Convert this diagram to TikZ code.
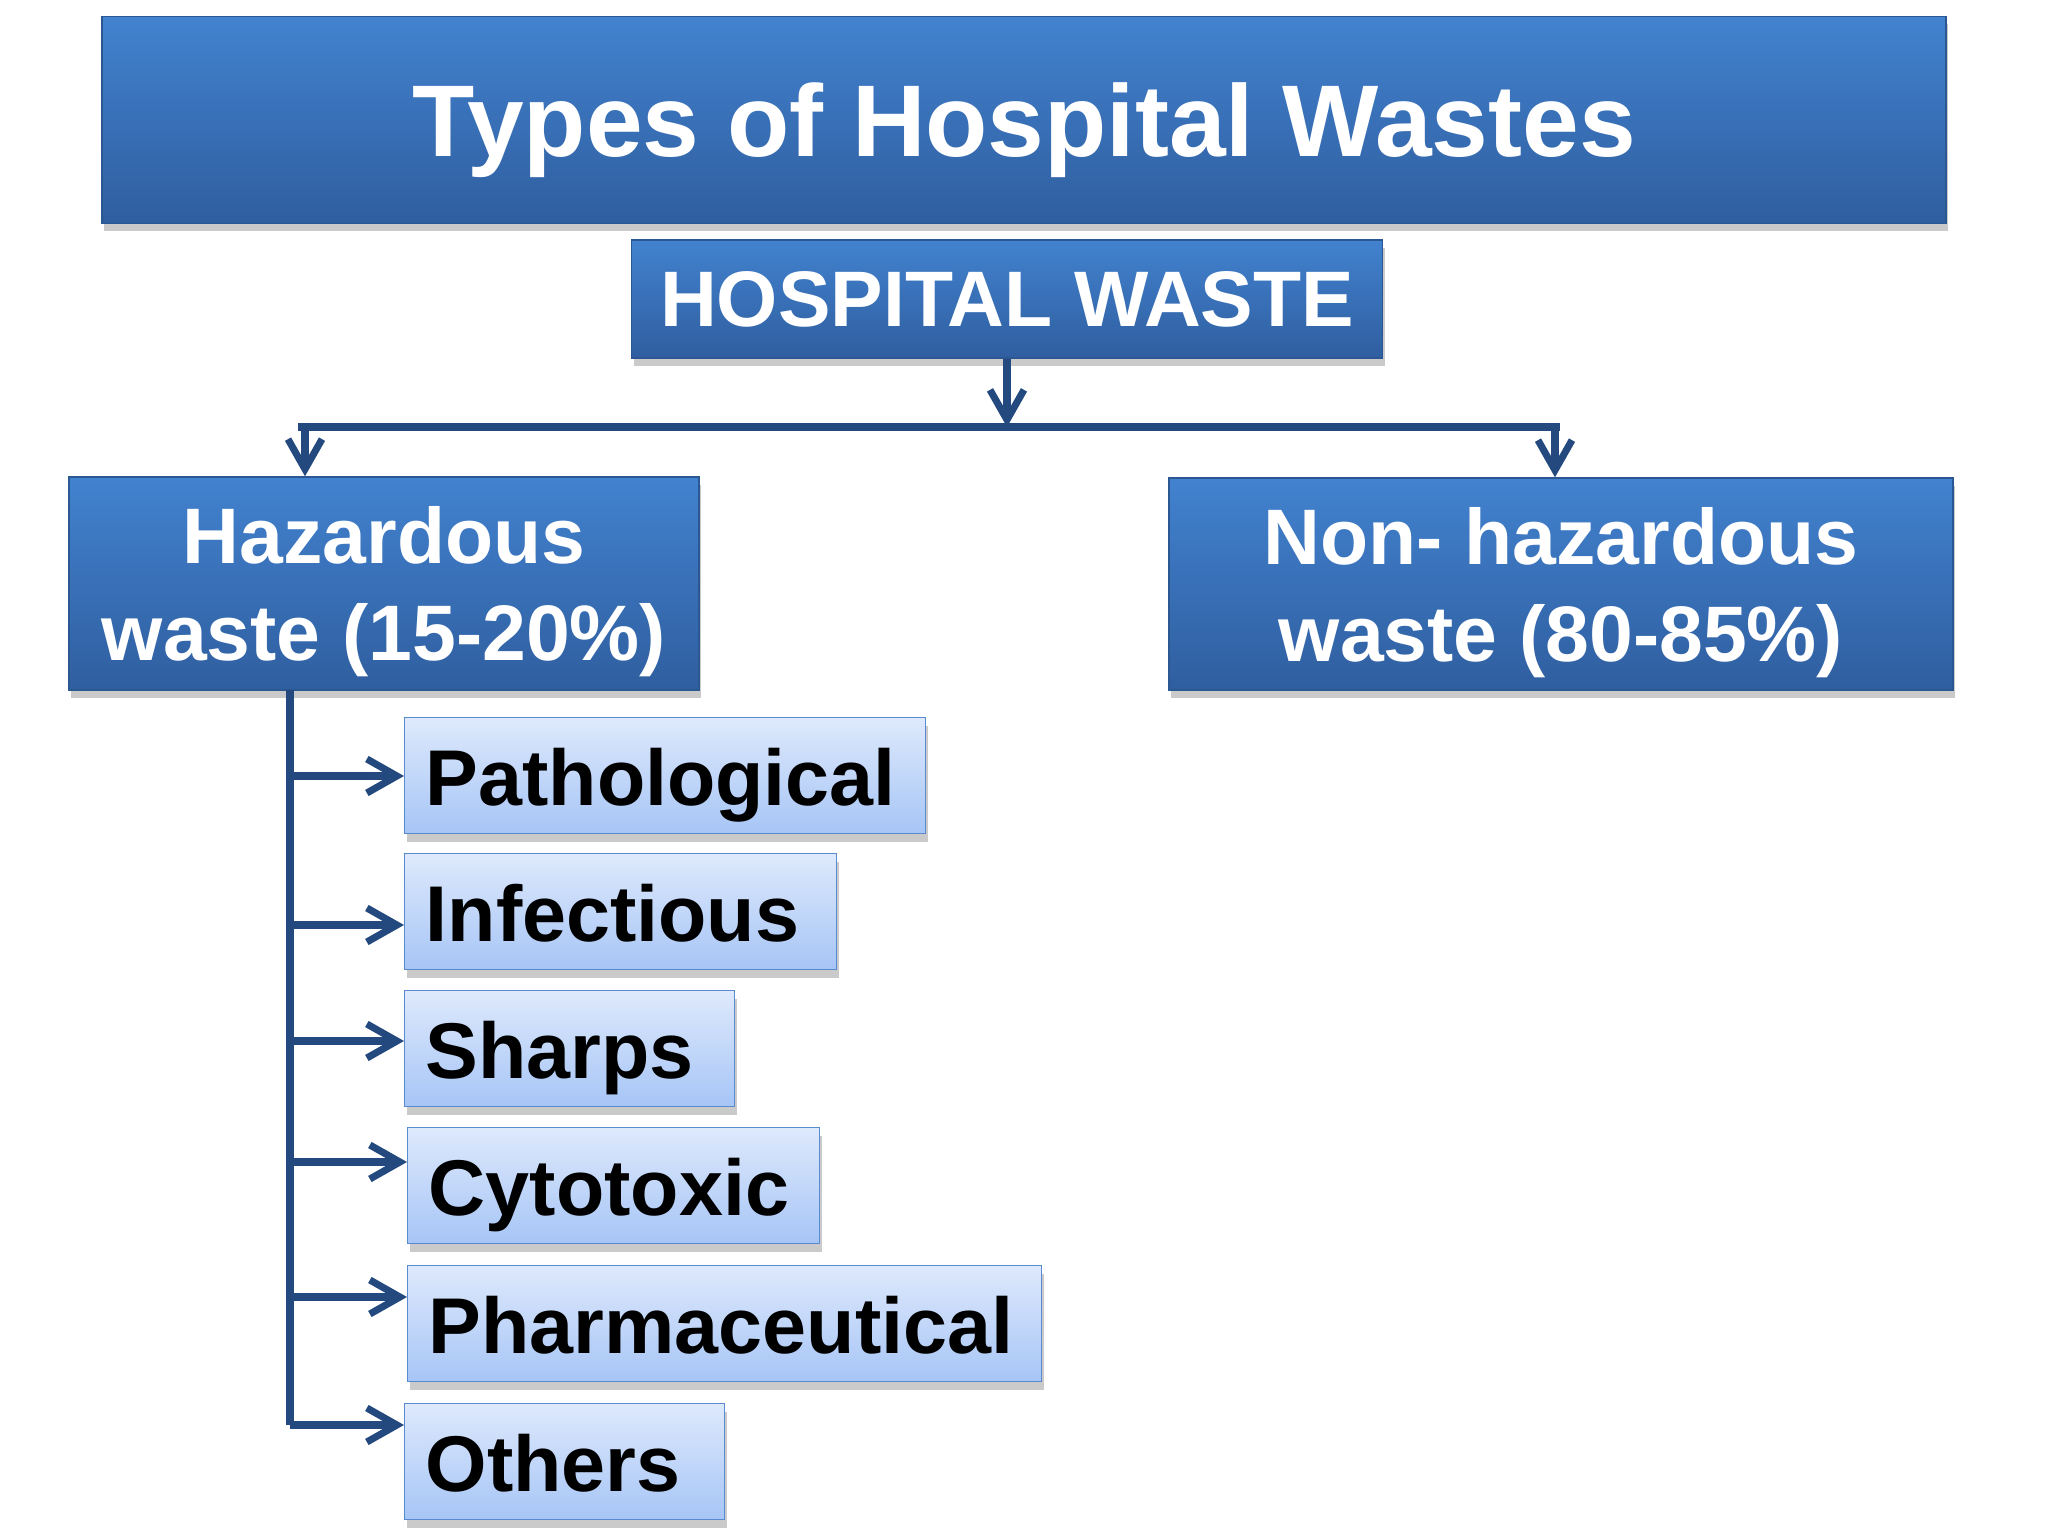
\documentclass[tikz,border=0pt]{standalone}
\usepackage{fontspec}
\setmainfont{Liberation Sans}
\usetikzlibrary{arrows.meta,shadows}

\definecolor{boxtop}{HTML}{4282CF}
\definecolor{boxbot}{HTML}{2F5E9F}
\definecolor{boxline}{HTML}{2B5792}
\definecolor{itemtop}{HTML}{DEE9FC}
\definecolor{itembot}{HTML}{A6C5F6}
\definecolor{itemline}{HTML}{5A8AD0}
\definecolor{wire}{HTML}{23497F}

\tikzset{
  shade/.style={drop shadow={shadow xshift=0.02cm,shadow yshift=-0.08cm,opacity=0.35,fill=black!60}},
  head/.style={draw=boxline,thin,top color=boxtop,bottom color=boxbot,text=white,
    font=\bfseries\fontsize{22.4}{27.6}\selectfont,align=center,inner sep=0pt,shade},
  item/.style={draw=itemline,thin,top color=itemtop,bottom color=itembot,text=black,
    font=\bfseries\fontsize{22.5}{27.6}\selectfont,align=left,anchor=north west,
    inner xsep=0.21cm,inner ysep=0pt,text height=0.88cm,text depth=0.28cm,shade},
  link/.style={draw=wire,line width=2pt},
  arr/.style={link,-{Straight Barb[length=3mm,width=3.4mm]}}
}

\begin{document}
\begin{tikzpicture}
   \useasboundingbox (0,0) rectangle (20.48,-15.36);

   \node[head,minimum width=18.44cm,minimum height=2.07cm,text depth=0pt,
     font=\bfseries\fontsize{29}{34}\selectfont] (title) at (10.24,-1.20) {Types of Hospital Wastes};
   \node[head,minimum width=7.51cm,minimum height=1.18cm] (waste) at (10.07,-2.99) {HOSPITAL WASTE};
   \node[head,minimum width=6.30cm,minimum height=2.13cm,text depth=0pt] (haz) at (3.84,-5.835) {Hazardous\\waste (15-20\%)};
   \node[head,minimum width=7.84cm,minimum height=2.12cm,text depth=0pt] (nonhaz) at (15.61,-5.84) {Non- hazardous\\waste (80-85\%)};

   \node[item,text width=4.79cm] (p1) at (4.04,-7.17) {Pathological};
   \node[item,text width=3.90cm] (p2) at (4.04,-8.53) {Infectious};
   \node[item,text width=2.88cm] (p3) at (4.04,-9.90) {Sharps};
   \node[item,text width=3.70cm] (p4) at (4.07,-11.27) {Cytotoxic};
   \node[item,text width=5.92cm] (p5) at (4.07,-12.65) {Pharmaceutical};
   \node[item,text width=2.78cm] (p6) at (4.04,-14.03) {Others};

   % split under hospital waste
   \coordinate (split) at (10.07,-4.27);
   \coordinate (lsplit) at (3.05,-4.27);
   \coordinate (rsplit) at (15.55,-4.27);
   \draw[arr] (waste.south -| split) -- (split);
   \draw[link] (2.98,-4.27) -- (15.60,-4.27);
   \draw[arr] (lsplit) -- (lsplit |- haz.north);
   \draw[arr] (rsplit) -- (rsplit |- nonhaz.north);

   % trunk of hazardous kinds
   \coordinate (top) at (2.90,-6.90);
   \coordinate (bot) at (2.90,-14.25);
   \draw[link] (top) -- (bot);
   \foreach \n/\y in {p1/7.76,p2/9.25,p3/10.41,p4/11.62,p5/12.97,p6/14.25}
      \draw[arr] (2.90,-\y) -- (\n.west |- 0,-\y);

\end{tikzpicture}
\end{document}
